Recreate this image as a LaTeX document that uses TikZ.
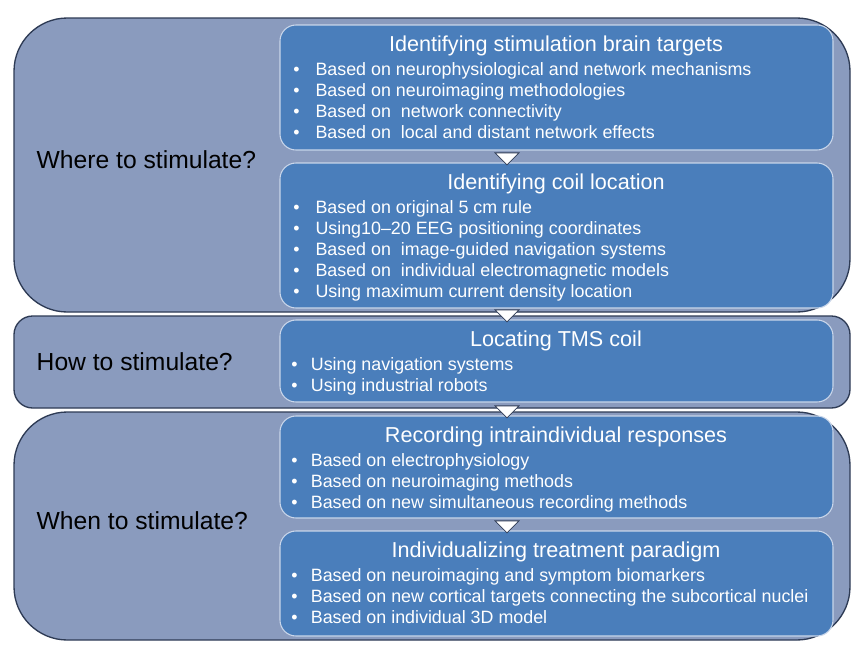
\documentclass[tikz,border=0pt]{standalone}
\usepackage{fontspec}
\setmainfont{Liberation Sans}
\usetikzlibrary{shapes.arrows}
\definecolor{outerc}{HTML}{8A9BBE}
\definecolor{outerb}{HTML}{2E3B55}
\definecolor{innerc}{HTML}{4A7EBB}
\definecolor{innerb}{HTML}{C9D6EA}
\begin{document}
\begin{tikzpicture}[x=0.75pt,y=-0.75pt,
 outer/.style={draw=outerb,line width=1pt,fill=outerc},
 inner/.style={draw=innerb,line width=0.8pt,fill=innerc,rounded corners=12pt},
 ttl/.style={text=white,font=\fontsize{16.2}{18}\selectfont,anchor=north},
 lst/.style={text=white,font=\fontsize{13.4}{15.8}\selectfont,anchor=north west,align=left,inner sep=0pt},
 lbl/.style={font=\fontsize{18.5}{20}\selectfont,anchor=west},
 arr/.style={single arrow,draw=outerb,fill=white,shape border rotate=270,minimum height=9pt,minimum width=18pt,single arrow head extend=4pt,inner sep=1.5pt,line width=0.6pt}]
\useasboundingbox (0,0) rectangle (865,661);
\fill[white] (0,0) rectangle (865,661);
\draw[outer,rounded corners=40pt] (14,18) rectangle (850,312);
\draw[outer,rounded corners=14pt] (14,316) rectangle (850,408);
\draw[outer,rounded corners=40pt] (14,412) rectangle (850,640);
\node[lbl] (l1) at (32,160) {Where to stimulate?};
\node[lbl] (l2) at (32,362) {How to stimulate?};
\node[lbl] (l3) at (32,521) {When to stimulate?};
\newcommand\bx[6]{%
 \draw[inner] (280,#1) rectangle (833,#2);
 \node[ttl] (#3t) at (556,#1+6) {#4};
 \node[lst] (#3l) at (#5,#1+37) {#6};}
\bx{25}{150}{a}{Identifying stimulation brain targets}{293}{%
•\hspace{12pt}Based on neurophysiological and network mechanisms\\
•\hspace{12pt}Based on neuroimaging methodologies\\
•\hspace{12pt}Based on\ \ network connectivity\\
•\hspace{12pt}Based on\ \ local and distant network effects}
\bx{163}{308}{b}{Identifying coil location}{293}{%
•\hspace{12pt}Based on original 5 cm rule\\
•\hspace{12pt}Using10–20 EEG positioning coordinates\\
•\hspace{12pt}Based on\ \ image-guided navigation systems\\
•\hspace{12pt}Based on\ \ individual electromagnetic models\\
•\hspace{12pt}Using maximum current density location}
\bx{320}{402}{c}{Locating TMS coil}{291}{%
•\hspace{10pt}Using navigation systems\\
•\hspace{10pt}Using industrial robots}
\bx{416}{518}{d}{Recording intraindividual responses}{291}{%
•\hspace{10pt}Based on electrophysiology\\
•\hspace{10pt}Based on neuroimaging methods\\
•\hspace{10pt}Based on new simultaneous recording methods}
\bx{531}{636}{e}{Individualizing treatment paradigm}{291}{%
•\hspace{10pt}Based on neuroimaging and symptom biomarkers\\
•\hspace{10pt}Based on new cortical targets connecting the subcortical nuclei\\
•\hspace{10pt}Based on individual 3D model}
\node[arr] (ar1) at (507,157) {};
\node[arr] (ar2) at (507,314) {};
\node[arr] (ar3) at (507,410) {};
\node[arr] (ar4) at (507,525) {};
\end{tikzpicture}
\end{document}
